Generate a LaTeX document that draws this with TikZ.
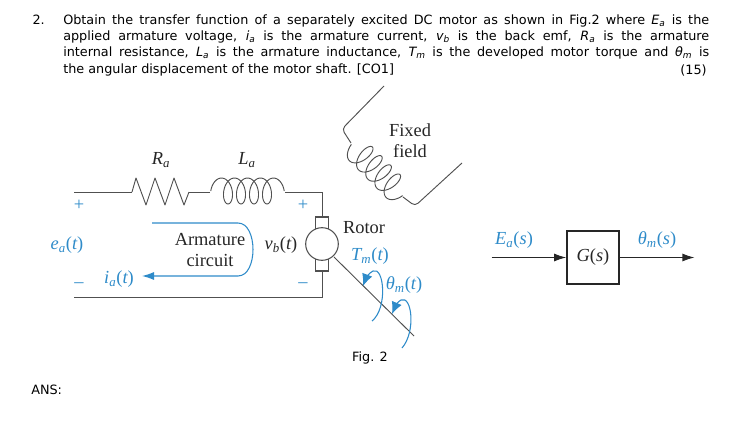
\documentclass[tikz,border=0pt]{standalone}
\usepackage{fontspec}
\setmainfont{DejaVu Sans}
\newfontfamily\figfont{Liberation Serif}
\usepackage{xcolor}
\usetikzlibrary{positioning}
\usetikzlibrary{arrows.meta}
\definecolor{figblue}{HTML}{2E8BC9}
\definecolor{wiregray}{HTML}{505050}
\newcommand{\qsym}[2]{{\itshape #1\textsubscript{#2}}}
\newcommand{\fsym}[3]{{\itshape #1\textsubscript{#2}\upshape(\itshape #3\upshape)}}

\begin{document}
\begin{tikzpicture}[x=0.75pt, y=-0.75pt, >={Latex[length=9pt,width=6pt]}]
    \tikzstyle{qtext} = [inner sep=0pt, font=\fontsize{9.6}{12.15}\selectfont]
    \tikzstyle{figtext} = [inner sep=0pt, text=black!85, font=\figfont\fontsize{13.8}{15.5}\selectfont, align=center]
    \tikzstyle{bluetext} = [figtext, text=figblue]
    \tikzstyle{wire} = [draw=wiregray, line width=0.7pt]
    \tikzstyle{bluewire} = [draw=figblue, line width=0.8pt]
    \tikzstyle{torque} = [bluewire, -{Latex[length=9pt,width=8pt]}]
    \tikzstyle{sigwire} = [->, draw=black!85, line width=0.8pt]
    \useasboundingbox (0,0) rectangle (744,432);

    % question text
    \node[qtext, anchor=base east] (qnum) at (45,24) {2.};
    \node[qtext, anchor=north west, text width=484.5pt, align=justify] (question) at (63,14.5) {Obtain the transfer function of a separately excited DC motor as shown in Fig.2 where \qsym{E}{a} is the\linebreak
    applied armature voltage, \qsym{i}{a} is the armature current, \qsym{v}{b} is the back emf, \qsym{R}{a} is the armature\linebreak
    internal resistance, \qsym{L}{a} is the armature inductance, \qsym{T}{m} is the developed motor torque and \qsym{θ}{m} is\linebreak
    the angular displacement of the motor shaft. [CO1]};
    \node[qtext, anchor=base east] (marks) at (707,74.5) {(15)};
    \node[qtext] (figcap) at (370,358) {Fig. 2};
    \node[qtext, anchor=base west] (ans) at (31,394) {ANS:};

    % armature circuit
    \coordinate (topleft) at (74,192);
    \coordinate (rain) at (132,192);
    \coordinate (raout) at (189,192);
    \coordinate (lain) at (210,192);
    \coordinate (laout) at (285,192);
    \coordinate (topright) at (322,192);
    \coordinate (botleft) at (74,297);
    \coordinate (botright) at (322,297);

    \node[draw=wiregray, line width=0.8pt, fill=white, minimum width=9.5pt, inner sep=0pt, minimum height=40.5pt] (brush) at (322,244) {};
    \node[draw=wiregray, line width=0.8pt, fill=white, circle, inner sep=0pt, minimum size=24.5pt] (rotor) at (322,244) {};

    \draw[wire] (topleft) -- (rain);
    \draw[wire, line join=round] (rain) -- (136,178) -- (146,205) -- (155,178) -- (165,205) -- (174,178) -- (184,205) -- (raout);
    \draw[wire] (raout) -- (lain);
    \draw[wire] plot[smooth, domain=-90:1530, samples=140] ({221.5+\x/360*13+7.5*sin(\x)}, {191-13*cos(\x)});
    \draw[wire] (laout) -- (topright) -- (brush.north);
    \draw[wire] (brush.south) -- (botright) -- (botleft);

    % fixed field
    \draw[wire, rounded corners=3pt] (384,86) -- (342,129) -- (351,143);
    \begin{scope}[shift={(377,170)}, rotate=-45]
        \draw[wire] plot[smooth, domain=-90:1530, samples=140] ({-26+\x/360*13+7*sin(\x)}, {13*cos(\x)});
    \end{scope}
    \draw[wire, rounded corners=3pt] (403,197) -- (415,206) -- (462,163);

    % shaft and torques
    \coordinate (shaftstart) at (334,257);
    \coordinate (shaftend) at (414,336);
    \draw[wire] (shaftstart) -- (shaftend);
    \draw[torque] (372,321) .. controls (388,308) and (384,266) .. (373,271) .. controls (369,273) and (366,278) .. (363,286);
    \draw[torque] (402,348) .. controls (416,332) and (412,295) .. (401,300) .. controls (397,302) and (395,307) .. (392,314);

    % labels
    \node[figtext] (rlabel) at (161,160) {\qsym{R}{a}};
    \node[figtext] (llabel) at (247,160) {\qsym{L}{a}};
    \node[figtext] (field) at (410,151) {field};
    \node[figtext] (fixed) at (410,130) {Fixed};
    \node[figtext] (rotorlabel) at (364,228) {Rotor};
    \node[figtext] (armature) at (210,240) {Armature};
    \node[figtext] (circuit) at (210,260) {circuit};
    \node[figtext] (vb) at (281,245) {\fsym{v}{b}{t}};
    \node[bluetext] (plusl) at (79,205) {+};
    \node[bluetext] (minusl) at (79,285) {\textendash};
    \node[bluetext] (plusr) at (303,205) {+};
    \node[bluetext] (minusr) at (303,285) {\textendash};
    \node[bluetext] (ea) at (67,245) {\fsym{e}{a}{t}};
    \node[bluetext] (ia) at (119,279) {\fsym{i}{a}{t}};
    \node[bluetext] (tm) at (370,256) {\fsym{T}{m}{t}};
    \node[bluetext] (thm) at (404,285) {\fsym{θ}{m}{t}};

    % armature current loop
    \coordinate (loopstart) at (152,223);
    \coordinate (looptip) at (142,276);
    \draw[bluewire, ->] (loopstart) -- (238,223) .. controls (258,223) and (258,276) .. (238,276) -- (looptip);

    % block
    \node[figtext, draw=black!85, line width=1.2pt, minimum width=39pt, minimum height=39.5pt] (gs) at (593,257.5) {\itshape G\upshape(\itshape s\upshape)};
    \coordinate[left=56pt of gs.west] (ein);
    \coordinate[right=56pt of gs.east] (thout);
    \draw[sigwire] (ein) -- (gs);
    \draw[sigwire] (gs) -- (thout);
    \node[bluetext] (es) at (514,240) {\fsym{E}{a}{s}};
    \node[bluetext] (ths) at (657,240) {\fsym{θ}{m}{s}};
\end{tikzpicture}
\end{document}
